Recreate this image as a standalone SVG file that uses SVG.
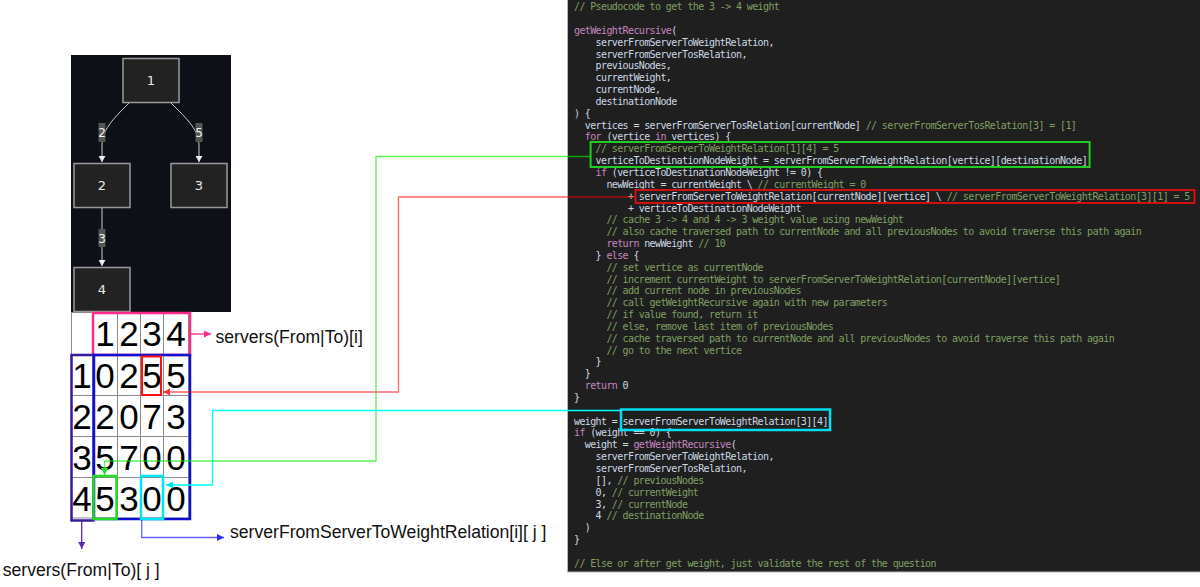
<svg xmlns="http://www.w3.org/2000/svg" width="1200" height="587" viewBox="0 0 1200 587">
<style>
.code{font-family:"DejaVu Sans Mono","Liberation Mono",monospace;font-size:10px;letter-spacing:-0.62px;fill:#cdd9e5}
.c{fill:#7f9f62}
.k{fill:#c586c0}
.gn rect{fill:#222222;stroke:#9a9a9a;stroke-width:1.5}
.gn text{font-family:"DejaVu Sans",sans-serif;font-size:13px;fill:#e8e8e8;text-anchor:middle}
.el rect{fill:#555555}
.el text{font-family:"DejaVu Sans",sans-serif;font-size:12px;fill:#f0f0f0;text-anchor:middle}
.edge{fill:none;stroke:#cccccc;stroke-width:1}
.dig{font-family:"Liberation Sans",Arial,sans-serif;font-size:35px;fill:#000;text-anchor:middle}
.lbl{font-family:"Liberation Sans",Arial,sans-serif;font-size:17.6px;fill:#111}
.grid{stroke:#8a8a8a;stroke-width:1;fill:none}
.conn{fill:none;stroke-width:1.3}
</style>
<defs>
<marker id="aw" markerUnits="userSpaceOnUse" markerWidth="7" markerHeight="7" refX="6" refY="3.5" orient="auto"><path d="M0,0 L6,3.5 L0,7 z" fill="#eeeeee"/></marker>
<marker id="ap" markerUnits="userSpaceOnUse" markerWidth="8" markerHeight="8" refX="7" refY="3.5" orient="auto"><path d="M0,0 L7,3.5 L0,7 z" fill="#ff2a8a"/></marker>
<marker id="ar" markerUnits="userSpaceOnUse" markerWidth="8" markerHeight="8" refX="7" refY="3.5" orient="auto"><path d="M0,0 L7,3.5 L0,7 z" fill="#ff3030"/></marker>
<marker id="ag" markerUnits="userSpaceOnUse" markerWidth="8" markerHeight="8" refX="7" refY="3.5" orient="auto"><path d="M0,0 L7,3.5 L0,7 z" fill="#22dd22"/></marker>
<marker id="ac" markerUnits="userSpaceOnUse" markerWidth="8" markerHeight="8" refX="7" refY="3.5" orient="auto"><path d="M0,0 L7,3.5 L0,7 z" fill="#00e5f5"/></marker>
<marker id="ab" markerUnits="userSpaceOnUse" markerWidth="8" markerHeight="8" refX="7" refY="3.5" orient="auto"><path d="M0,0 L7,3.5 L0,7 z" fill="#2a2aff"/></marker>
<marker id="au" markerUnits="userSpaceOnUse" markerWidth="8" markerHeight="8" refX="7" refY="3.5" orient="auto"><path d="M0,0 L7,3.5 L0,7 z" fill="#5a2ab0"/></marker>
<clipPath id="gclip"><rect x="71" y="55" width="160" height="257"/></clipPath>
</defs>
<rect width="1200" height="587" fill="#ffffff"/>

<!-- Graph panel -->
<g id="graph" clip-path="url(#gclip)">
<rect x="71" y="55" width="160" height="257" fill="#0d1117"/>
<g id="graph-edges">
<path class="edge" d="M129,103 C112,120 102,130 102,146 L102,162" marker-end="url(#aw)"/>
<path class="edge" d="M171,103 C188,120 199,130 199,146 L199,162" marker-end="url(#aw)"/>
<path class="edge" d="M102,207 L102,266" marker-end="url(#aw)"/>
<g class="el"><rect x="98.5" y="123" width="7" height="19"/><text x="102" y="137">2</text></g>
<g class="el"><rect x="195.5" y="123" width="7" height="19"/><text x="199" y="137">5</text></g>
<g class="el"><rect x="98.5" y="229" width="7" height="18"/><text x="102" y="243">3</text></g>
</g>
<g id="n1" class="gn"><rect x="123" y="58.5" width="56" height="44"/><text x="151" y="85">1</text></g>
<g id="n2" class="gn"><rect x="74" y="163.5" width="56" height="44"/><text x="102" y="190">2</text></g>
<g id="n3" class="gn"><rect x="171" y="163.5" width="56" height="44"/><text x="199" y="190">3</text></g>
<g id="n4" class="gn"><rect x="74" y="267.5" width="56" height="44"/><text x="102" y="294">4</text></g>
</g>

<!-- Table -->
<g id="table">
<rect x="71" y="312" width="118" height="206" fill="#ffffff"/>
<path class="grid" d="M71.5,312 V518 M93.5,312 V518 M117.5,312 V518 M140.5,312 V518 M163.5,312 V518 M188.5,312 V518 M71,312.5 H189 M71,354.5 H189 M71,395.5 H189 M71,436.5 H189 M71,477.5 H189 M71,518 H189"/>
<g class="dig">
<text x="105" y="346">1</text><text x="129" y="346">2</text><text x="152" y="346">3</text><text x="176" y="346">4</text>
<text x="82" y="388">1</text><text x="105" y="388">0</text><text x="129" y="388">2</text><text x="152" y="388">5</text><text x="176" y="388">5</text>
<text x="82" y="429">2</text><text x="105" y="429">2</text><text x="129" y="429">0</text><text x="152" y="429">7</text><text x="176" y="429">3</text>
<text x="82" y="470">3</text><text x="105" y="470">5</text><text x="129" y="470">7</text><text x="152" y="470">0</text><text x="176" y="470">0</text>
<text x="82" y="511">4</text><text x="105" y="511">5</text><text x="129" y="511">3</text><text x="152" y="511">0</text><text x="176" y="511">0</text>
</g>
<rect id="pink-box" x="93" y="313" width="97" height="42" fill="none" stroke="#ff2a8a" stroke-width="2.5"/>
<rect id="purple-box" x="71.5" y="355" width="22" height="165.5" fill="none" stroke="#3a1a9c" stroke-width="2.5"/>
<rect id="blue-box" x="94" y="355" width="96" height="164" fill="none" stroke="#1010d0" stroke-width="2.5"/>
<rect id="red-cell" x="142" y="356.5" width="19" height="38.5" fill="none" stroke="#ff1010" stroke-width="2"/>
<rect id="green-cell" x="93.5" y="476" width="23" height="43" fill="none" stroke="#22dd22" stroke-width="2.5"/>
<rect id="cyan-cell" x="141" y="476" width="22" height="43" fill="none" stroke="#00e5f5" stroke-width="2.5"/>
</g>

<!-- Code panel -->
<g id="code">
<rect x="567.5" y="-1" width="634" height="573" fill="#1f1f1f" stroke="#b8b8b8" stroke-width="1"/>
<g class="code" xml:space="preserve">
<text x="574" y="10.2"><tspan class="c">// Pseudocode to get the 3 -&gt; 4 weight</tspan></text>
<text x="574" y="33.9"><tspan class="k">getWeightRecursive</tspan>(</text>
<text x="595.6" y="45.7">serverFromServerToWeightRelation,</text>
<text x="595.6" y="57.6">serverFromServerTosRelation,</text>
<text x="595.6" y="69.4">previousNodes,</text>
<text x="595.6" y="81.2">currentWeight,</text>
<text x="595.6" y="93.1">currentNode,</text>
<text x="595.6" y="104.9">destinationNode</text>
<text x="574" y="116.8">) {</text>
<text x="584.8" y="128.6">vertices = serverFromServerTosRelation[currentNode] <tspan class="c">// serverFromServerTosRelation[3] = [1]</tspan></text>
<text x="584.8" y="140.4"><tspan class="k">for</tspan> (vertice <tspan class="k">in</tspan> vertices) {</text>
<text x="595.6" y="152.3"><tspan class="c">// serverFromServerToWeightRelation[1][4] = 5</tspan></text>
<text x="595.6" y="164.1">verticeToDestinationNodeWeight = serverFromServerToWeightRelation[vertice][destinationNode]</text>
<text x="595.6" y="176.0"><tspan class="k">if</tspan> (verticeToDestinationNodeWeight != 0) {</text>
<text x="606.4" y="187.8">newWeight = currentWeight \ <tspan class="c">// currentWeight = 0</tspan></text>
<text x="628" y="199.6">+ serverFromServerToWeightRelation[currentNode][vertice] \ <tspan class="c">// serverFromServerToWeightRelation[3][1] = 5</tspan></text>
<text x="628" y="211.5">+ verticeToDestinationNodeWeight</text>
<text x="606.4" y="223.3"><tspan class="c">// cache 3 -&gt; 4 and 4 -&gt; 3 weight value using newWeight</tspan></text>
<text x="606.4" y="235.2"><tspan class="c">// also cache traversed path to currentNode and all previousNodes to avoid traverse this path again</tspan></text>
<text x="606.4" y="247.0"><tspan class="k">return</tspan> newWeight <tspan class="c">// 10</tspan></text>
<text x="595.6" y="258.8">} <tspan class="k">else</tspan> {</text>
<text x="606.4" y="270.7"><tspan class="c">// set vertice as currentNode</tspan></text>
<text x="606.4" y="282.5"><tspan class="c">// increment currentWeight to serverFromServerToWeightRelation[currentNode][vertice]</tspan></text>
<text x="606.4" y="294.4"><tspan class="c">// add current node in previousNodes</tspan></text>
<text x="606.4" y="306.2"><tspan class="c">// call getWeightRecursive again with new parameters</tspan></text>
<text x="606.4" y="318.0"><tspan class="c">// if value found, return it</tspan></text>
<text x="606.4" y="329.9"><tspan class="c">// else, remove last item of previousNodes</tspan></text>
<text x="606.4" y="341.7"><tspan class="c">// cache traversed path to currentNode and all previousNodes to avoid traverse this path again</tspan></text>
<text x="606.4" y="353.6"><tspan class="c">// go to the next vertice</tspan></text>
<text x="595.6" y="365.4">}</text>
<text x="584.8" y="377.2">}</text>
<text x="584.8" y="389.1"><tspan class="k">return</tspan> 0</text>
<text x="574" y="400.9">}</text>
<text x="574" y="424.6">weight = serverFromServerToWeightRelation[3][4]</text>
<text x="574" y="436.4"><tspan class="k">if</tspan> (weight == 0) {</text>
<text x="584.8" y="448.3">weight = <tspan class="k">getWeightRecursive</tspan>(</text>
<text x="595.6" y="460.1">serverFromServerToWeightRelation,</text>
<text x="595.6" y="472.0">serverFromServerTosRelation,</text>
<text x="595.6" y="483.8">[], <tspan class="c">// previousNodes</tspan></text>
<text x="595.6" y="495.6">0, <tspan class="c">// currentWeight</tspan></text>
<text x="595.6" y="507.5">3, <tspan class="c">// currentNode</tspan></text>
<text x="595.6" y="519.3">4 <tspan class="c">// destinationNode</tspan></text>
<text x="584.8" y="531.2">)</text>
<text x="574" y="543.0">}</text>
<text x="574" y="566.7"><tspan class="c">// Else or after get weight, just validate the rest of the question</tspan></text>
</g>
<rect id="code-green-box" x="590.6" y="142" width="499" height="25" fill="none" stroke="#22cc22" stroke-width="2"/>
<rect id="code-red-box" x="635.5" y="190" width="559" height="13" fill="none" stroke="#e01010" stroke-width="1.8"/>
<rect id="code-cyan-box" x="621" y="409.5" width="209" height="20.5" fill="none" stroke="#00e0f0" stroke-width="2.5"/>
</g>

<!-- Connectors -->
<g id="connectors">
<path class="conn" d="M190,334 H211" stroke="#ff2a8a" marker-end="url(#ap)"/>
<path class="conn" d="M635,197 H398.5 V392 H163" stroke="#ff0000" stroke-opacity="0.6" marker-end="url(#ar)"/>
<path class="conn" d="M590,156.5 H376 V461 H104.5 V475" stroke="#00ee00" stroke-opacity="0.65" marker-end="url(#ag)"/>
<path class="conn" d="M621,410.5 H212.5 V485 H166" stroke="#00ffff" marker-end="url(#ac)"/>
<path class="conn" d="M141.7,520 V537.5 H224" stroke="#3030ff" stroke-opacity="0.75" marker-end="url(#ab)"/>
<path class="conn" d="M81.7,521 V549" stroke="#5a2ab0" marker-end="url(#au)"/>
</g>

<!-- Labels -->
<g id="labels">
<text class="lbl" x="215.5" y="343">servers(From|To)[i]</text>
<text class="lbl" x="230" y="538">serverFromServerToWeightRelation[i][ j ]</text>
<text class="lbl" x="2.7" y="576">servers(From|To)[ j ]</text>
</g>
</svg>
